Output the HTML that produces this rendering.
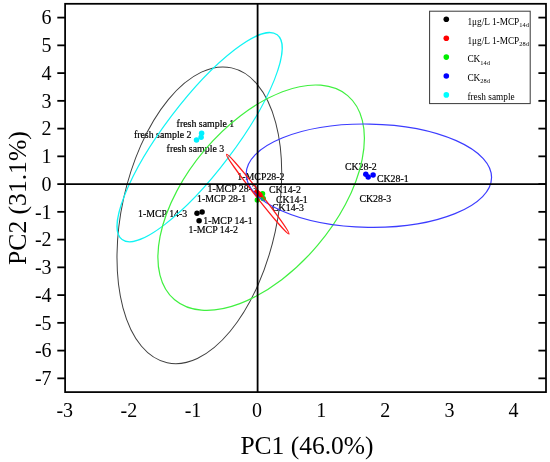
<!DOCTYPE html>
<html><head><meta charset="utf-8"><style>html,body{margin:0;padding:0;background:#fff}svg{display:block}</style></head>
<body>
<svg width="550" height="462" viewBox="0 0 550 462">
<rect width="550" height="462" fill="#fff"/>
<text x="176.6" y="127.40" font-family="Liberation Serif, Times New Roman, serif" font-size="9.9" stroke="#000" stroke-width="0.2">fresh sample 1</text>
<text x="133.9" y="138.30" font-family="Liberation Serif, Times New Roman, serif" font-size="9.9" stroke="#000" stroke-width="0.2">fresh sample 2</text>
<text x="166.6" y="152.30" font-family="Liberation Serif, Times New Roman, serif" font-size="9.9" stroke="#000" stroke-width="0.2">fresh sample 3</text>
<text x="237.3" y="180.10" font-family="Liberation Serif, Times New Roman, serif" font-size="9.9" stroke="#000" stroke-width="0.2">1-MCP28-2</text>
<text x="207.6" y="192.10" font-family="Liberation Serif, Times New Roman, serif" font-size="9.9" stroke="#000" stroke-width="0.2">1-MCP 28-3</text>
<text x="197" y="201.70" font-family="Liberation Serif, Times New Roman, serif" font-size="9.9" stroke="#000" stroke-width="0.2">1-MCP 28-1</text>
<text x="269" y="193.10" font-family="Liberation Serif, Times New Roman, serif" font-size="9.9" stroke="#000" stroke-width="0.2">CK14-2</text>
<text x="275.9" y="202.70" font-family="Liberation Serif, Times New Roman, serif" font-size="9.9" stroke="#000" stroke-width="0.2">CK14-1</text>
<text x="272" y="211.30" font-family="Liberation Serif, Times New Roman, serif" font-size="9.9" stroke="#000" stroke-width="0.2">CK14-3</text>
<text x="138.0" y="217.00" font-family="Liberation Serif, Times New Roman, serif" font-size="9.9" stroke="#000" stroke-width="0.2">1-MCP 14-3</text>
<text x="203.3" y="223.60" font-family="Liberation Serif, Times New Roman, serif" font-size="9.9" stroke="#000" stroke-width="0.2">1-MCP 14-1</text>
<text x="188.6" y="233.00" font-family="Liberation Serif, Times New Roman, serif" font-size="9.9" stroke="#000" stroke-width="0.2">1-MCP 14-2</text>
<text x="344.9" y="169.70" font-family="Liberation Serif, Times New Roman, serif" font-size="9.9" stroke="#000" stroke-width="0.2">CK28-2</text>
<text x="376.9" y="182.00" font-family="Liberation Serif, Times New Roman, serif" font-size="9.9" stroke="#000" stroke-width="0.2">CK28-1</text>
<text x="359.4" y="202.00" font-family="Liberation Serif, Times New Roman, serif" font-size="9.9" stroke="#000" stroke-width="0.2">CK28-3</text>
<circle cx="201.6" cy="133.2" r="2.75" fill="#00f0ff"/>
<circle cx="201.1" cy="137.3" r="2.75" fill="#00f0ff"/>
<circle cx="196.5" cy="140" r="2.75" fill="#00f0ff"/>
<circle cx="197" cy="213.3" r="2.75" fill="#000"/>
<circle cx="202.1" cy="212.1" r="2.75" fill="#000"/>
<circle cx="199.1" cy="220.7" r="2.75" fill="#000"/>
<circle cx="262.5" cy="193.7" r="2.75" fill="#00ee00"/>
<circle cx="257.3" cy="200" r="2.75" fill="#00ee00"/>
<circle cx="263.2" cy="198.6" r="2.75" fill="#00ee00"/>
<circle cx="256.7" cy="192.4" r="2.75" fill="#ff0000"/>
<circle cx="259.8" cy="195" r="2.75" fill="#ff0000"/>
<circle cx="258.5" cy="194" r="2.75" fill="#ff0000"/>
<circle cx="365.8" cy="174.3" r="2.75" fill="#0000ff"/>
<circle cx="368.2" cy="177.1" r="2.75" fill="#0000ff"/>
<circle cx="373.1" cy="175.1" r="2.75" fill="#0000ff"/>
<ellipse cx="199.36" cy="215.29" rx="150.9" ry="77.61" transform="rotate(-77.68 199.36 215.29)" fill="none" stroke="#404040" stroke-width="1.0"/>
<ellipse cx="199.63" cy="137.17" rx="128.42" ry="35.27" transform="rotate(-52.85 199.63 137.17)" fill="none" stroke="#10f4f4" stroke-width="1.2"/>
<ellipse cx="261.14" cy="197.7" rx="133.8" ry="73.88" transform="rotate(-49.72 261.14 197.7)" fill="none" stroke="#40f040" stroke-width="1.2"/>
<ellipse cx="368.87" cy="175.7" rx="122.7" ry="51.65" transform="rotate(-179.05 368.87 175.7)" fill="none" stroke="#3c3cff" stroke-width="1.2"/>
<ellipse cx="257.8" cy="194.2" rx="50.6" ry="2.6" transform="rotate(51.9 257.8 194.2)" fill="none" stroke="#ff1a1a" stroke-width="1.2"/>
<line x1="257.6" y1="3.8" x2="257.6" y2="392.1" stroke="#000" stroke-width="1.8"/>
<line x1="65.1" y1="184.1" x2="546.0" y2="184.1" stroke="#000" stroke-width="1.8"/>
<rect x="65.1" y="3.8" width="480.9" height="388.3" fill="none" stroke="#000" stroke-width="1.75"/>
<line x1="57.3" y1="378.35" x2="65.1" y2="378.35" stroke="#000" stroke-width="1.8"/>
<line x1="538.4" y1="378.35" x2="546.0" y2="378.35" stroke="#000" stroke-width="1.8"/>
<text x="51.6" y="385.15" text-anchor="end" font-family="Liberation Serif, Times New Roman, serif" font-size="20">-7</text>
<line x1="57.3" y1="350.60" x2="65.1" y2="350.60" stroke="#000" stroke-width="1.8"/>
<line x1="538.4" y1="350.60" x2="546.0" y2="350.60" stroke="#000" stroke-width="1.8"/>
<text x="51.6" y="357.40" text-anchor="end" font-family="Liberation Serif, Times New Roman, serif" font-size="20">-6</text>
<line x1="57.3" y1="322.85" x2="65.1" y2="322.85" stroke="#000" stroke-width="1.8"/>
<line x1="538.4" y1="322.85" x2="546.0" y2="322.85" stroke="#000" stroke-width="1.8"/>
<text x="51.6" y="329.65" text-anchor="end" font-family="Liberation Serif, Times New Roman, serif" font-size="20">-5</text>
<line x1="57.3" y1="295.10" x2="65.1" y2="295.10" stroke="#000" stroke-width="1.8"/>
<line x1="538.4" y1="295.10" x2="546.0" y2="295.10" stroke="#000" stroke-width="1.8"/>
<text x="51.6" y="301.90" text-anchor="end" font-family="Liberation Serif, Times New Roman, serif" font-size="20">-4</text>
<line x1="57.3" y1="267.35" x2="65.1" y2="267.35" stroke="#000" stroke-width="1.8"/>
<line x1="538.4" y1="267.35" x2="546.0" y2="267.35" stroke="#000" stroke-width="1.8"/>
<text x="51.6" y="274.15" text-anchor="end" font-family="Liberation Serif, Times New Roman, serif" font-size="20">-3</text>
<line x1="57.3" y1="239.60" x2="65.1" y2="239.60" stroke="#000" stroke-width="1.8"/>
<line x1="538.4" y1="239.60" x2="546.0" y2="239.60" stroke="#000" stroke-width="1.8"/>
<text x="51.6" y="246.40" text-anchor="end" font-family="Liberation Serif, Times New Roman, serif" font-size="20">-2</text>
<line x1="57.3" y1="211.85" x2="65.1" y2="211.85" stroke="#000" stroke-width="1.8"/>
<line x1="538.4" y1="211.85" x2="546.0" y2="211.85" stroke="#000" stroke-width="1.8"/>
<text x="51.6" y="218.65" text-anchor="end" font-family="Liberation Serif, Times New Roman, serif" font-size="20">-1</text>
<line x1="57.3" y1="184.10" x2="65.1" y2="184.10" stroke="#000" stroke-width="1.8"/>
<line x1="538.4" y1="184.10" x2="546.0" y2="184.10" stroke="#000" stroke-width="1.8"/>
<text x="51.6" y="190.90" text-anchor="end" font-family="Liberation Serif, Times New Roman, serif" font-size="20">0</text>
<line x1="57.3" y1="156.35" x2="65.1" y2="156.35" stroke="#000" stroke-width="1.8"/>
<line x1="538.4" y1="156.35" x2="546.0" y2="156.35" stroke="#000" stroke-width="1.8"/>
<text x="51.6" y="163.15" text-anchor="end" font-family="Liberation Serif, Times New Roman, serif" font-size="20">1</text>
<line x1="57.3" y1="128.60" x2="65.1" y2="128.60" stroke="#000" stroke-width="1.8"/>
<line x1="538.4" y1="128.60" x2="546.0" y2="128.60" stroke="#000" stroke-width="1.8"/>
<text x="51.6" y="135.40" text-anchor="end" font-family="Liberation Serif, Times New Roman, serif" font-size="20">2</text>
<line x1="57.3" y1="100.85" x2="65.1" y2="100.85" stroke="#000" stroke-width="1.8"/>
<line x1="538.4" y1="100.85" x2="546.0" y2="100.85" stroke="#000" stroke-width="1.8"/>
<text x="51.6" y="107.65" text-anchor="end" font-family="Liberation Serif, Times New Roman, serif" font-size="20">3</text>
<line x1="57.3" y1="73.10" x2="65.1" y2="73.10" stroke="#000" stroke-width="1.8"/>
<line x1="538.4" y1="73.10" x2="546.0" y2="73.10" stroke="#000" stroke-width="1.8"/>
<text x="51.6" y="79.90" text-anchor="end" font-family="Liberation Serif, Times New Roman, serif" font-size="20">4</text>
<line x1="57.3" y1="45.35" x2="65.1" y2="45.35" stroke="#000" stroke-width="1.8"/>
<line x1="538.4" y1="45.35" x2="546.0" y2="45.35" stroke="#000" stroke-width="1.8"/>
<text x="51.6" y="52.15" text-anchor="end" font-family="Liberation Serif, Times New Roman, serif" font-size="20">5</text>
<line x1="57.3" y1="17.60" x2="65.1" y2="17.60" stroke="#000" stroke-width="1.8"/>
<line x1="538.4" y1="17.60" x2="546.0" y2="17.60" stroke="#000" stroke-width="1.8"/>
<text x="51.6" y="24.40" text-anchor="end" font-family="Liberation Serif, Times New Roman, serif" font-size="20">6</text>
<text x="64.74" y="416.5" text-anchor="middle" font-family="Liberation Serif, Times New Roman, serif" font-size="20">-3</text>
<text x="128.86" y="416.5" text-anchor="middle" font-family="Liberation Serif, Times New Roman, serif" font-size="20">-2</text>
<text x="192.98" y="416.5" text-anchor="middle" font-family="Liberation Serif, Times New Roman, serif" font-size="20">-1</text>
<text x="257.10" y="416.5" text-anchor="middle" font-family="Liberation Serif, Times New Roman, serif" font-size="20">0</text>
<text x="321.22" y="416.5" text-anchor="middle" font-family="Liberation Serif, Times New Roman, serif" font-size="20">1</text>
<text x="385.34" y="416.5" text-anchor="middle" font-family="Liberation Serif, Times New Roman, serif" font-size="20">2</text>
<text x="449.46" y="416.5" text-anchor="middle" font-family="Liberation Serif, Times New Roman, serif" font-size="20">3</text>
<text x="513.58" y="416.5" text-anchor="middle" font-family="Liberation Serif, Times New Roman, serif" font-size="20">4</text>
<text x="307" y="453.7" text-anchor="middle" font-family="Liberation Serif, Times New Roman, serif" font-size="25.5">PC1 (46.0%)</text>
<text transform="translate(25.5 198.1) rotate(-90)" text-anchor="middle" font-family="Liberation Serif, Times New Roman, serif" font-size="25.6">PC2 (31.1%)</text>
<rect x="429.6" y="11.2" width="100.6" height="92.4" fill="#fff" stroke="#383838" stroke-width="1"/>
<circle cx="446.3" cy="19.30" r="2.8" fill="#000"/>
<text x="467.4" y="24.60" font-family="Liberation Serif, Times New Roman, serif" font-size="9.3">1μg/L 1-MCP<tspan font-size="6.4" dy="2.1">14d</tspan></text>
<circle cx="446.3" cy="38.20" r="2.8" fill="#f00"/>
<text x="467.4" y="43.50" font-family="Liberation Serif, Times New Roman, serif" font-size="9.3">1μg/L 1-MCP<tspan font-size="6.4" dy="2.1">28d</tspan></text>
<circle cx="446.3" cy="57.10" r="2.8" fill="#0e0"/>
<text x="467.4" y="62.40" font-family="Liberation Serif, Times New Roman, serif" font-size="9.3">CK<tspan font-size="6.4" dy="2.1">14d</tspan></text>
<circle cx="446.3" cy="76.00" r="2.8" fill="#00f"/>
<text x="467.4" y="81.30" font-family="Liberation Serif, Times New Roman, serif" font-size="9.3">CK<tspan font-size="6.4" dy="2.1">28d</tspan></text>
<circle cx="446.3" cy="94.90" r="2.8" fill="#0ff"/>
<text x="467.4" y="100.20" font-family="Liberation Serif, Times New Roman, serif" font-size="9.3">fresh sample</text>
</svg>
</body></html>
